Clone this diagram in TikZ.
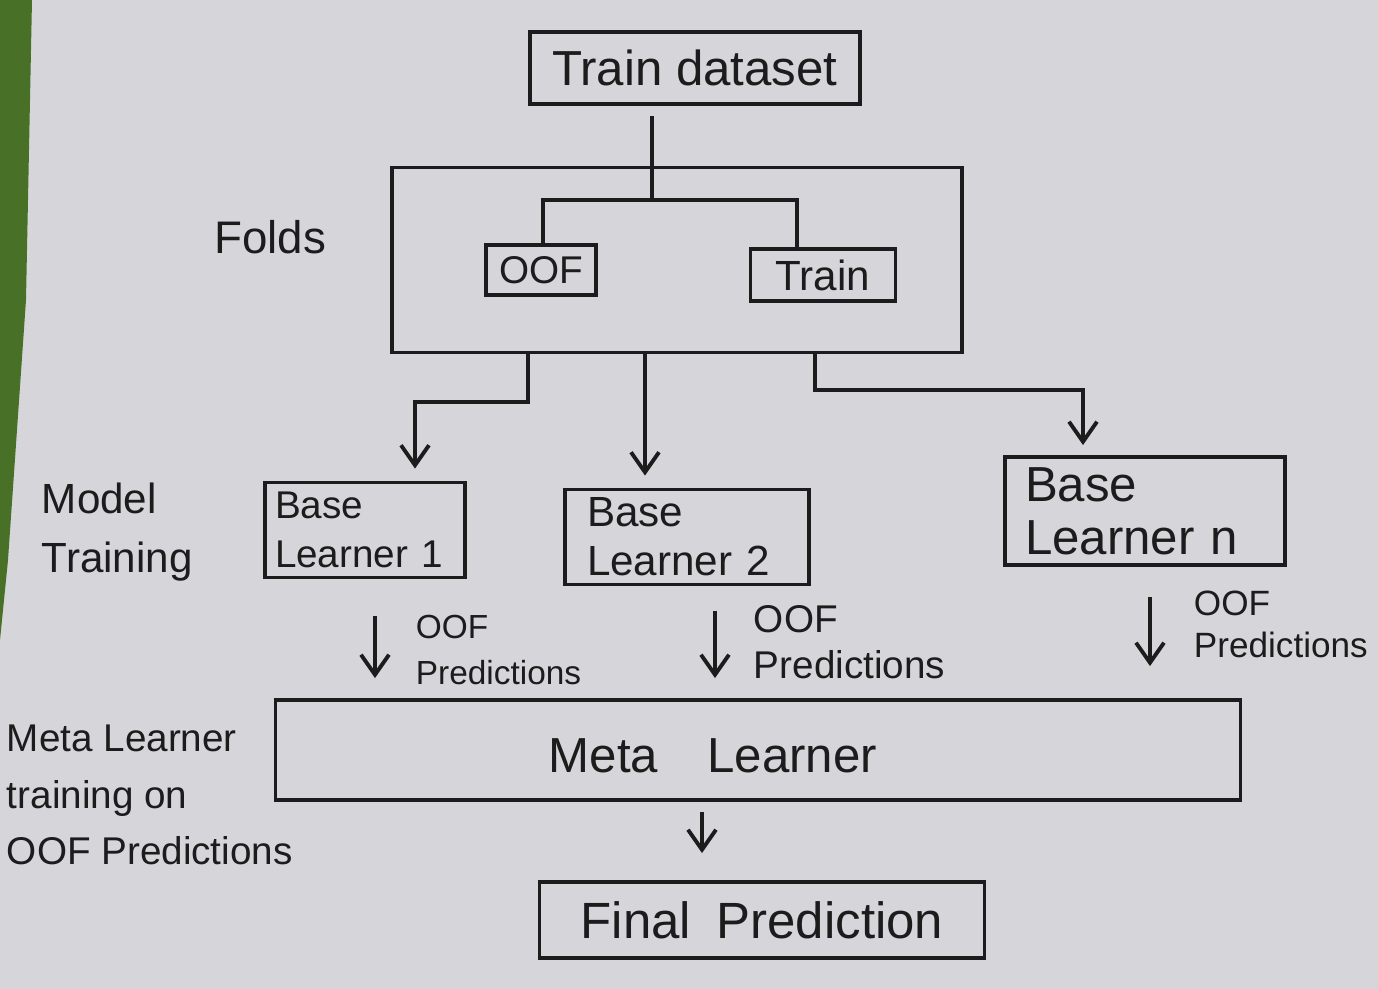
\documentclass[tikz,border=0pt]{standalone}
\usepackage{fontspec}
\setmainfont{Liberation Sans}
\usepackage{xcolor}
\usetikzlibrary{arrows.meta,positioning,calc}
\definecolor{paper}{RGB}{214,214,218}
\definecolor{grass}{RGB}{72,112,38}
\definecolor{ink}{RGB}{28,28,28}
\newcommand{\fs}[2]{\fontsize{#1}{#2}\selectfont}

\begin{document}
\begin{tikzpicture}[x=0.1mm, y=-0.1mm, line width=1.1pt, color=ink,
    box/.style={draw, rectangle, inner sep=0pt},
    learner/.style={box, align=left, inner xsep=2.5mm},
    arr/.style={-{Straight Barb[length=2mm,width=2.8mm]}},
    lbl/.style={align=left, anchor=west, inner sep=0pt}]
    % paper
    \fill[paper] (0,0) rectangle (1378,989);
    \fill[grass] (0,0) -- (32,0) -- (26,300) -- (8,560) -- (0,640) -- cycle;
    \useasboundingbox (0,0) rectangle (1378,989);

    % dataset and folds
    \node[box, minimum width=33mm, minimum height=7.2mm, font=\fs{14}{16}] (data) at (695,68) {Train dataset};
    \node[box, minimum width=57mm, minimum height=18.5mm] (folds) at (677,260) {};
    \node[box, minimum width=11mm, minimum height=5mm, font=\fs{11}{12}] (oof) at (541,270) {OOF};
    \node[box, minimum width=14.5mm, minimum height=5.2mm, font=\fs{12}{13}] (trn) at (823,275) {Train};
    \node[font=\fs{13}{14}] (lfolds) at (270,237) {Folds};

    \coordinate (split) at (652,200);
    \draw[shorten <=1mm] (data.south -| split) -- (split);
    \draw ($(oof.north)+(2,0)$) |- (split) -| ($(trn.north)+(-26,0)$);

    % base learners
    \node[learner, minimum width=20mm, minimum height=9.5mm, text width=18mm, inner xsep=1mm, font=\fs{11}{14}] (base1) at (365,530) {Base\\Learner 1};
    \node[learner, minimum width=24.3mm, minimum height=9.5mm, text width=20mm, inner xsep=2.2mm, font=\fs{12}{14}] (base2) at (687,537) {Base\\Learner 2};
    \node[learner, minimum width=28mm, minimum height=10.8mm, text width=24mm, inner xsep=2mm, font=\fs{14}{15}] (basen) at (1145,511) {Base\\Learner n};
    \node[lbl, font=\fs{12}{17}] (lmodel) at (40,532) {Model\\Training};

    \coordinate (k1) at (528,402);
    \coordinate (k2) at (415,402);
    \coordinate (k3) at (815,390);
    \coordinate (k4) at (1083,390);
    \draw[arr, shorten >=1.2mm] (folds.south -| k1) -- (k1) -- (k2) -- (k2 |- base1.north);
    \draw[arr, shorten >=1.2mm] ($(folds.south)+(-32,0)$) -- ($(base2.north)+(-42,0)$);
    \draw[arr, shorten >=1mm] (folds.south -| k3) -- (k3) -- (k4) -- (k4 |- basen.north);

    % meta learner
    \node[box, minimum width=96.5mm, minimum height=10mm] (meta) at (758,750) {};
    \node[font=\fs{14}{16}] (mtext) at ($(meta.center)+(-45,6)$) {Meta\quad Learner};
    \node[lbl, font=\fs{11}{16}] (lmeta) at (5,795) {Meta Learner\\training on\\OOF Predictions};

    \coordinate (p1) at ($(base1.south)+(10,0)$);
    \coordinate (p2) at ($(base2.south)+(28,0)$);
    \coordinate (pn) at ($(basen.south)+(5,0)$);
    \draw[arr, shorten <=3.7mm, shorten >=2mm] (p1) -- (p1 |- meta.north);
    \draw[arr, shorten <=2.5mm, shorten >=2mm] (p2) -- (p2 |- meta.north);
    \draw[arr, shorten <=3mm, shorten >=3.2mm] (pn) -- (pn |- meta.north);
    \node[lbl, font=\fs{9.5}{13}] (pred1) at (414,650) {OOF\\Predictions};
    \node[lbl, font=\fs{11}{13}] (pred2) at (752,642) {OOF\\Predictions};
    \node[lbl, font=\fs{10}{12}] (predn) at (1192,624) {OOF\\Predictions};

    % output
    \node[box, minimum width=44.5mm, minimum height=7.6mm, font=\fs{14.5}{16}] (final) at (762,920) {Final\enspace Prediction};
    \draw[arr, shorten <=1mm, shorten >=2.7mm] ($(meta.south)+(-56,0)$) -- ($(final.north)+(-60,0)$);
\end{tikzpicture}
\end{document}
